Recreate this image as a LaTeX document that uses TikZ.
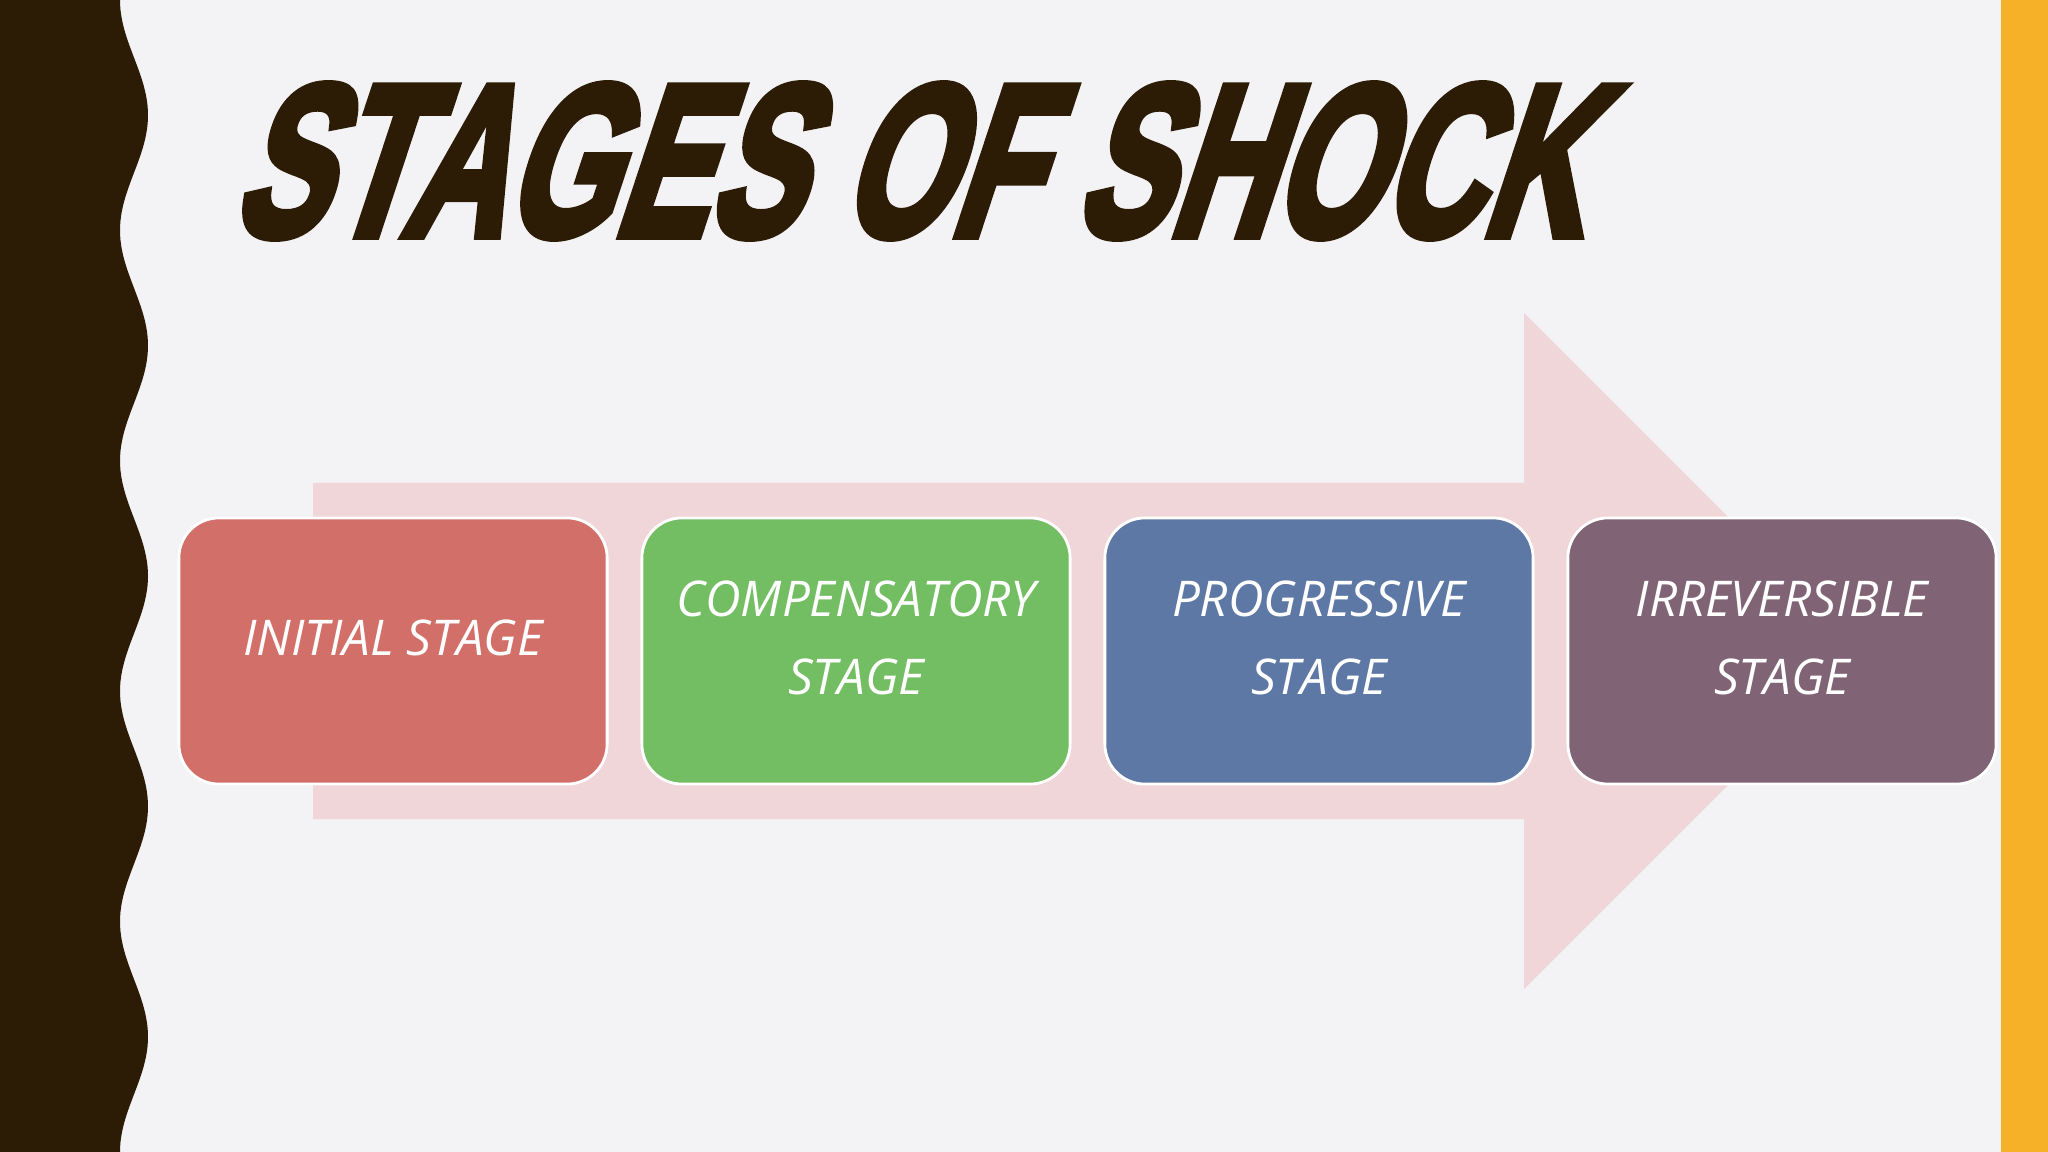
\documentclass[tikz,border=0pt]{standalone}
\usepackage{fontspec}
\setmainfont{Open Sans}
\newfontfamily\titlefont[BoldFeatures={FakeBold=4.5}]{Liberation Sans}
\usepackage{xcolor}
\usepackage{tikz}
\definecolor{bg}{RGB}{243,242,244}
\definecolor{darkbrown}{RGB}{44,27,5}
\definecolor{bandorange}{RGB}{247,177,41}
\definecolor{arrowpink}{RGB}{240,214,217}
\definecolor{initred}{RGB}{210,111,104}
\definecolor{compgreen}{RGB}{115,189,99}
\definecolor{progblue}{RGB}{94,120,166}
\definecolor{irrpurple}{RGB}{129,99,118}
\tikzset{
  stage/.style={rectangle,rounded corners=0.4cm,draw=white,line width=0.8pt,minimum width=4.28cm,minimum height=2.66cm,inner sep=0pt},
  stagetext/.style={text=white,align=center,inner sep=0pt,font=\itshape\fontsize{14}{22.3}\selectfont},
  title/.style={text=darkbrown,inner sep=0pt,xslant=0.33,font=\titlefont\bfseries\fontsize{60}{60}\selectfont}
}

\begin{document}
\begin{tikzpicture}[x=0.01cm,y=-0.01cm]
    %
    \useasboundingbox (0,0) rectangle (2048,1152);
    \fill[bg] (0,0) rectangle (2048,1152);
    \fill[darkbrown] (0,0) -- plot[domain=0:1152,samples=241] ({134-14*cos(\x/230.4*360)},\x) -- (0,1152) -- cycle;
    \fill[bandorange] (2001,0) rectangle (2048,1152);
    %
    \fill[arrowpink] (313,483) -- (1524,483) -- (1524,313) -- (1862,651) -- (1524,989) -- (1524,819) -- (313,819) -- cycle;
    %
    \node[title] (title) at (930,161) {\resizebox{13.5cm}{1.5cm}{STAGES OF SHOCK}};
    %
    \node[stage,fill=initred] (s1) at (393,651) {};
    \node[stage,fill=compgreen] (s2) at (856,651) {};
    \node[stage,fill=progblue] (s3) at (1319,651) {};
    \node[stage,fill=irrpurple] (s4) at (1782,651) {};
    %
    \node[stagetext] (t1) at ([yshift=0.13cm]s1.center) {INITIAL STAGE};
    \node[stagetext] (t2) at ([yshift=0.13cm]s2.center) {COMPENSATORY\\STAGE};
    \node[stagetext] (t3) at ([yshift=0.13cm]s3.center) {PROGRESSIVE\\STAGE};
    \node[stagetext] (t4) at ([yshift=0.13cm]s4.center) {IRREVERSIBLE\\STAGE};
    %
\end{tikzpicture}
\end{document}
